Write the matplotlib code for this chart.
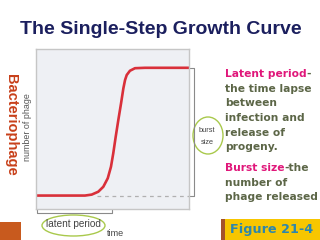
import matplotlib
matplotlib.use("Agg")
import matplotlib.pyplot as plt
from matplotlib.patches import Ellipse, Rectangle

# ---- data ----
time = [0, 3.20, 3.64, 4.07, 4.40, 4.69, 4.90, 5.05, 5.21, 5.38, 5.56, 5.71,
        5.82, 5.93, 6.14, 6.47, 7.12, 10]
phage = [8.4, 8.4, 9.0, 10.8, 13.9, 19.2, 26.4, 34.8, 45.2, 55.6, 66.1, 75.4,
         80.6, 83.75, 86.4, 88.0, 88.25, 88.25]
baseline_level = 8.1
plateau_level = 88.25
latent_end = 4.97
dash_start = 4.0

title = "The Single-Step Growth Curve"
right_lines = [
    ("Latent period", "-"),
    ("", "the time lapse"),
    ("", "between"),
    ("", "infection and"),
    ("", "release of"),
    ("", "progeny."),
    ("Burst size", "-the"),
    ("", "number of"),
    ("", "phage released"),
]
right_baselines = [77, 91.7, 106.3, 121, 135.6, 150.3, 171, 185.6, 200.3]

W, H = 320, 240
fig = plt.figure(figsize=(W / 100, H / 100), dpi=100)
fig.patch.set_facecolor("white")

# overlay axes in pixel coordinates
ov = fig.add_axes([0, 0, 1, 1], zorder=0)
ov.set_xlim(0, W)
ov.set_ylim(H, 0)
ov.axis("off")

# main plot axes
x0, x1, y0, y1 = 36, 189, 49, 209
ax = fig.add_axes([x0 / W, (H - y1) / H, (x1 - x0) / W, (y1 - y0) / H], zorder=1)
ax.set_facecolor("#eef0f4")
for s in ax.spines.values():
    s.set_color("#c6c6c6")
    s.set_linewidth(1.0)
ax.set_xticks([])
ax.set_yticks([])
ax.set_xlim(0, 10)
ax.set_ylim(0, 100)

ax.plot([dash_start, 10], [baseline_level, baseline_level], color="#b0b0b0",
        lw=0.9, ls=(0, (3, 3)), zorder=1)
ax.plot(time, phage, color="#d9303a", lw=1.9, solid_capstyle="butt",
        solid_joinstyle="round", zorder=2)

# burst size bracket
bx = 10.33
ax.plot([10.0, bx, bx, 10.0], [plateau_level, plateau_level, baseline_level, baseline_level],
        color="#8a8a8a", lw=0.8, clip_on=False)
# latent period bracket
by = -2.5
ax.plot([0.05, 0.05, latent_end, latent_end], [-0.8, by, by, -0.8],
        color="#8a8a8a", lw=0.8, clip_on=False)

# ellipses
ov.add_patch(Ellipse((73.5, 225.5), 63, 21, fill=False, ec="#a9c94c", lw=1.0))
ov.add_patch(Ellipse((208, 135.5), 30, 37, fill=False, ec="#a9c94c", lw=1.0))

ov.text(73.5, 224, "latent period", ha="center", va="center", fontsize=7.2,
        color="#444444", family="Liberation Sans")
ov.text(115, 234, "time", ha="center", va="center", fontsize=6.5,
        color="#444444", family="Liberation Sans")
ov.text(207, 131, "burst", ha="center", va="center", fontsize=5.3,
        color="#444444", family="Liberation Sans")
ov.text(207, 143, "size", ha="center", va="center", fontsize=5.3,
        color="#444444", family="Liberation Sans")

# title
ov.text(160.5, 30, title, ha="center", va="center", fontsize=14, fontweight="bold",
        color="#1b1f5e", family="Liberation Sans")

# y labels
ov.text(10.5, 125, "Bacteriophage", rotation=-90, ha="center", va="center",
        fontsize=10.5, fontweight="bold", color="#c8401a", family="Liberation Sans")
ov.text(28, 127, "number of phage", rotation=90, ha="center", va="center",
        fontsize=6.4, color="#555555", family="Liberation Sans")

# orange block
ov.add_patch(Rectangle((0, 222), 21, 18, color="#c85a1e", lw=0))

# right text
fig.canvas.draw()
renderer = fig.canvas.get_renderer()
tx = 225
fs = 7.7
for (hl, rest), yb in zip(right_lines, right_baselines):
    xpos = tx
    if hl:
        t = ov.text(xpos, yb, hl, ha="left", va="baseline", fontsize=fs,
                    fontweight="bold", color="#e0177a", family="DejaVu Sans")
        bb = t.get_window_extent(renderer)
        xpos = ov.transData.inverted().transform((bb.x1, 0))[0]
    ov.text(xpos, yb, rest, ha="left", va="baseline", fontsize=fs,
            fontweight="bold", color="#5c6647", family="DejaVu Sans")

# Figure box
ov.add_patch(Rectangle((225, 219), 95, 21, color="#f7c600", lw=0))
ov.add_patch(Rectangle((221, 219), 4, 21, color="#a4532a", lw=0))
ov.text(230, 230, "Figure 21-4", ha="left", va="center", fontsize=9.2,
        fontweight="bold", color="#2c86ad", family="DejaVu Sans")

fig.savefig("out.png", dpi=100)
